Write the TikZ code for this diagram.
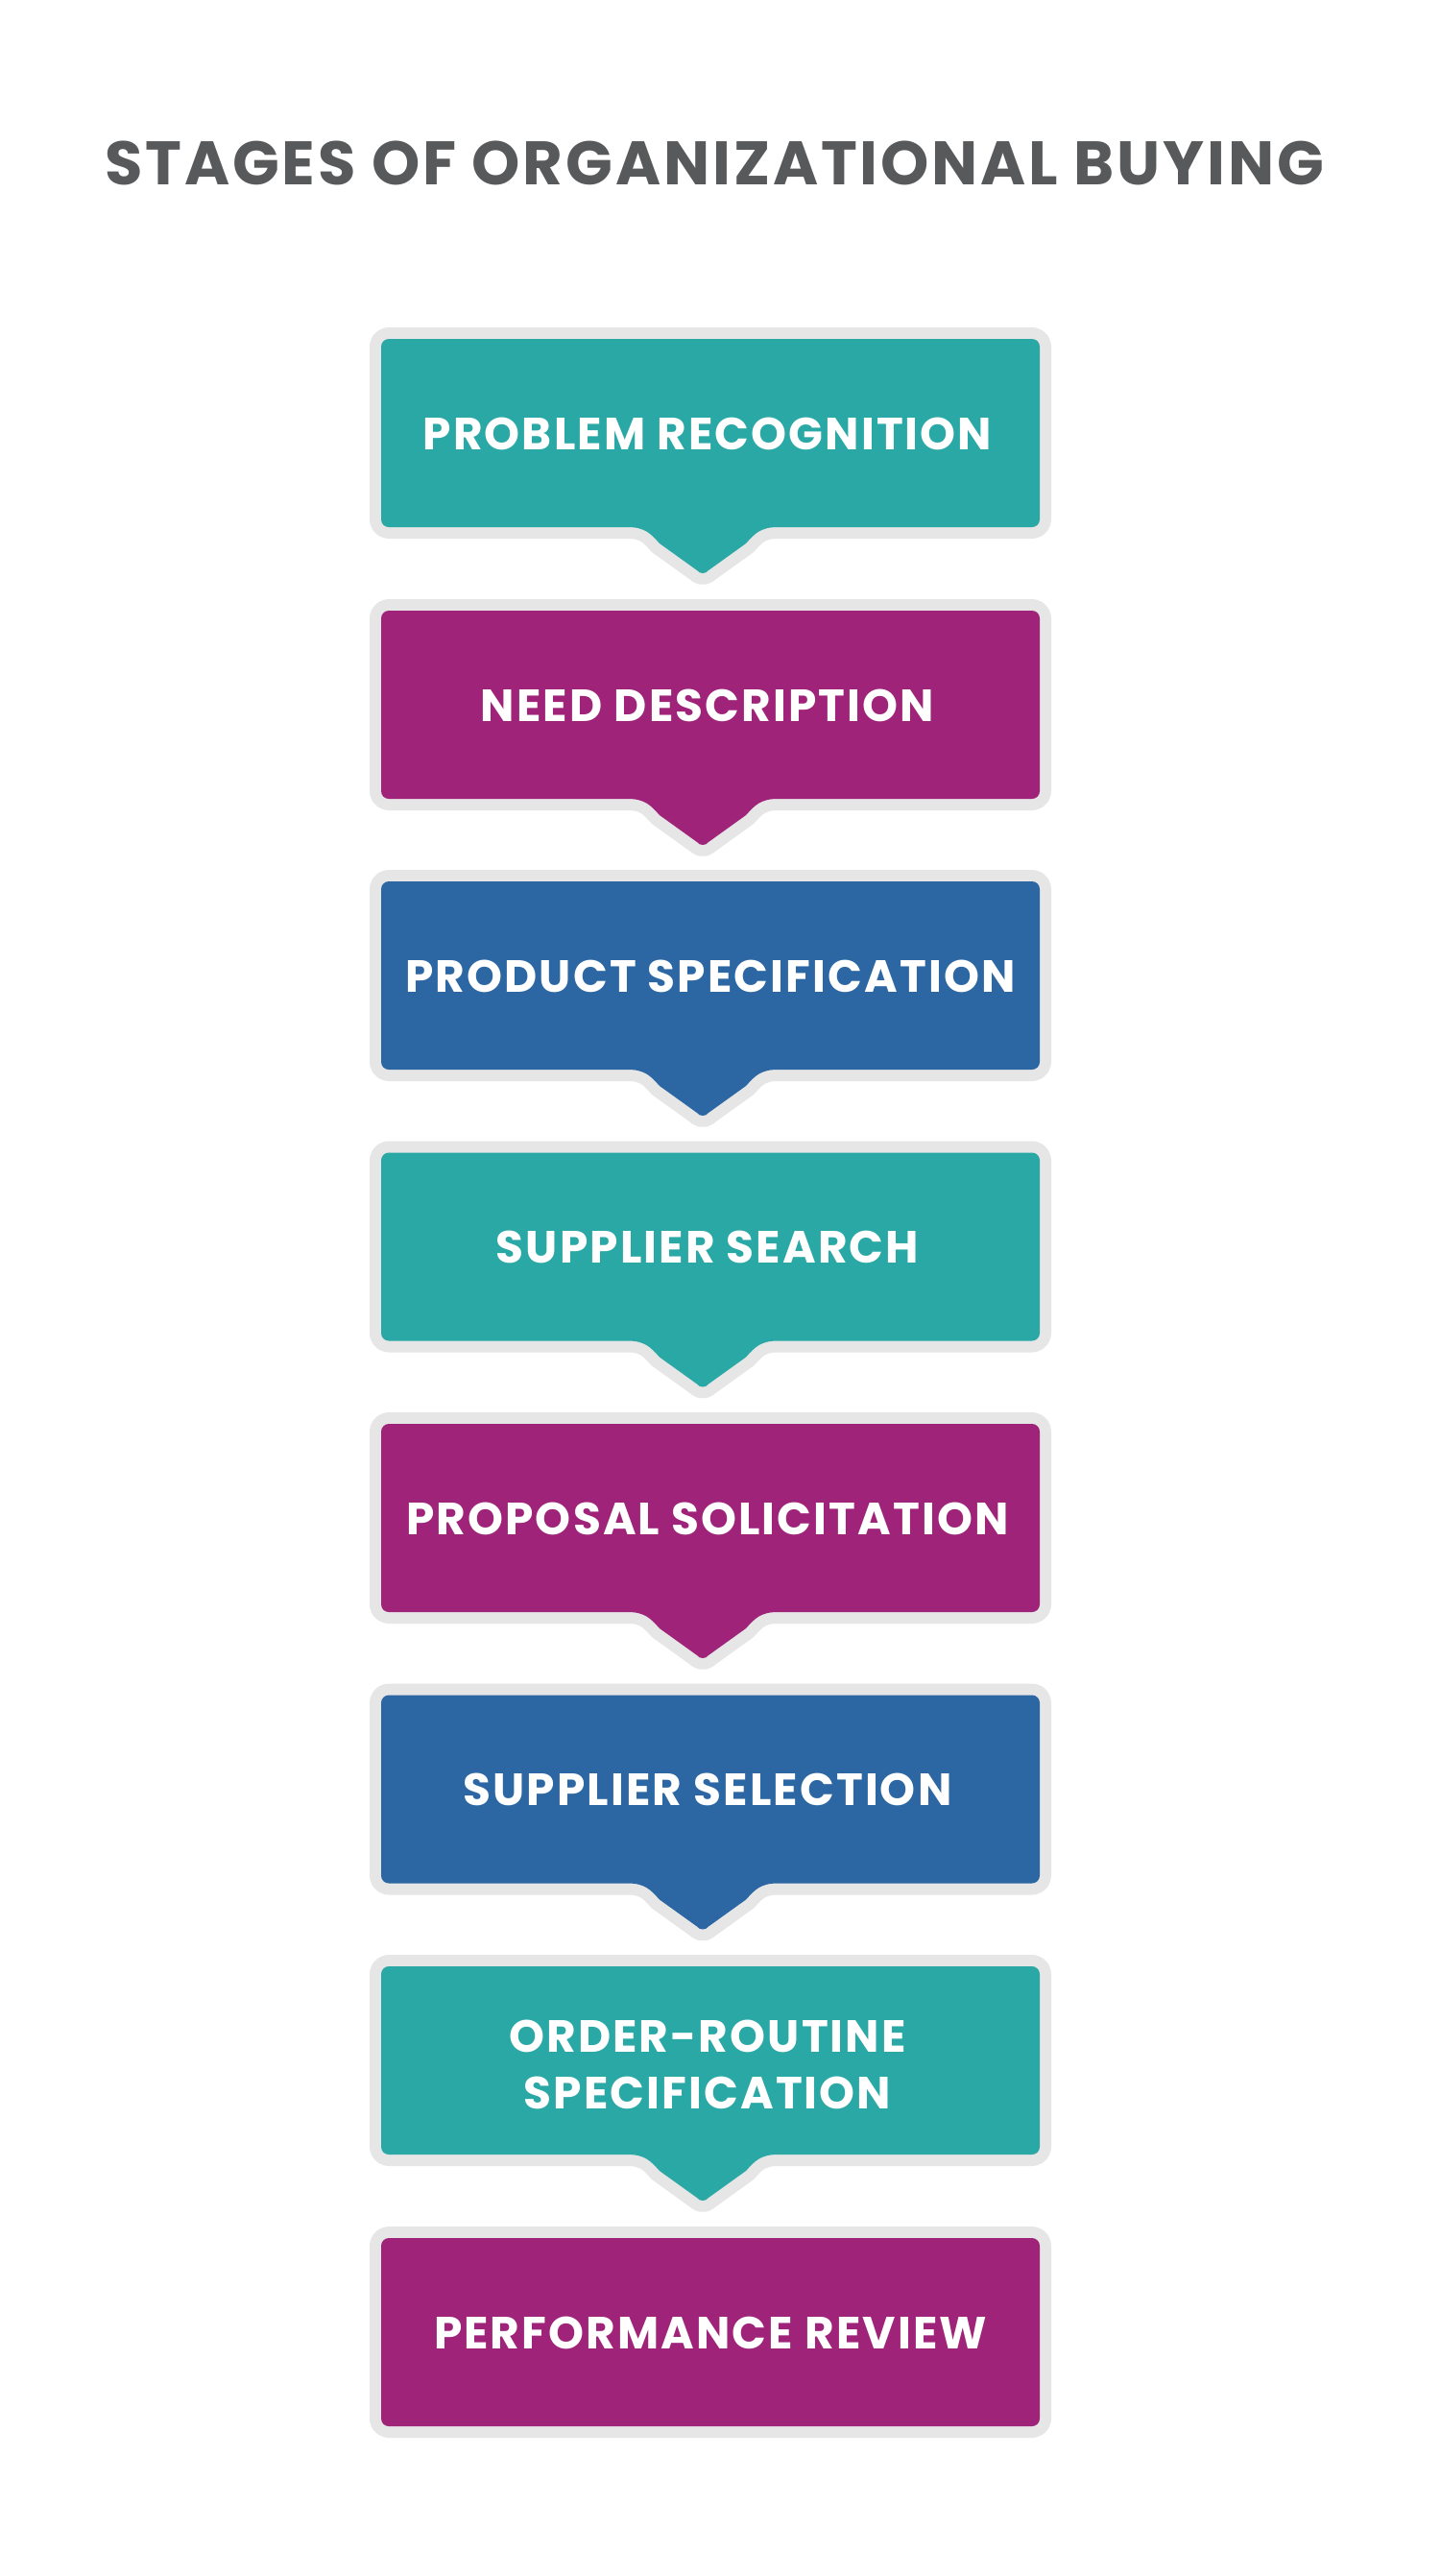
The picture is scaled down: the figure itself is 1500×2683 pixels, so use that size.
\documentclass[tikz,border=0pt]{standalone}
\usepackage{fontspec}
\setmainfont{Poppins}[LetterSpace=4.5]
\definecolor{tealc}{RGB}{41,168,166}
\definecolor{purplec}{RGB}{158,35,121}
\definecolor{bluec}{RGB}{44,103,163}
\definecolor{borderc}{RGB}{230,230,230}
\definecolor{titlec}{RGB}{88,89,91}
\tikzset{
  stageshape/.style={fill=#1, preaction={draw=borderc, line width=24pt, line join=round}},
  stagetext/.style={text=white, font=\fontsize{47}{59}\selectfont\bfseries, inner sep=0pt, anchor=base, align=center},
  titletext/.style={text=titlec, font=\fontsize{64}{70}\selectfont\bfseries, inner sep=0pt, anchor=base west}
}
% #1 top y, #2 colour
\newcommand\pointbox[2]{%
  \begin{scope}[shift={(0,#1)}]
    \path[stageshape=#2] (405,0) -- (1075,0) .. controls (1079.4,0) and (1083,3.6) .. (1083,8)
      -- (1083,188) .. controls (1083,192.4) and (1079.4,196) .. (1075,196)
      -- (810,196) .. controls (792,196) and (786,203) .. (777,213)
      -- (738,241) .. controls (735,245) and (729,245) .. (726,241)
      -- (687,213) .. controls (678,203) and (672,196) .. (654,196)
      -- (405,196) .. controls (400.6,196) and (397,192.4) .. (397,188)
      -- (397,8) .. controls (397,3.6) and (400.6,0) .. (405,0) -- cycle;
  \end{scope}}
\newcommand\plainbox[2]{%
  \begin{scope}[shift={(0,#1)}]
    \path[stageshape=#2] (405,0) -- (1075,0) .. controls (1079.4,0) and (1083,3.6) .. (1083,8)
      -- (1083,188) .. controls (1083,192.4) and (1079.4,196) .. (1075,196)
      -- (405,196) .. controls (400.6,196) and (397,192.4) .. (397,188)
      -- (397,8) .. controls (397,3.6) and (400.6,0) .. (405,0) -- cycle;
  \end{scope}}
\begin{document}
\begin{tikzpicture}[x=1pt,y=-1pt]
\useasboundingbox (0,0) rectangle (1500,2683);
\fill[white] (0,0) rectangle (1500,2683);
\node[titletext] (title) at (109,192) {STAGES OF ORGANIZATIONAL BUYING};
\pointbox{353}{tealc}
\pointbox{636}{purplec}
\pointbox{918}{bluec}
\pointbox{1200.5}{tealc}
\pointbox{1483}{purplec}
\pointbox{1765.5}{bluec}
\pointbox{2048}{tealc}
\plainbox{2331}{purplec}
\node[stagetext] (b1) at (737,468) {PROBLEM RECOGNITION};
\node[stagetext] (b2) at (737,751) {NEED DESCRIPTION};
\node[stagetext] (b3) at (740,1033) {PRODUCT SPECIFICATION};
\node[stagetext] (b4) at (737,1315.5) {SUPPLIER SEARCH};
\node[stagetext] (b5) at (737,1598) {PROPOSAL SOLICITATION};
\node[stagetext] (b6) at (737,1880.5) {SUPPLIER SELECTION};
\node[stagetext] (b7) at (737,2196) {ORDER-ROUTINE\\SPECIFICATION};
\node[stagetext] (b8) at (740,2446) {PERFORMANCE REVIEW};
\end{tikzpicture}
\end{document}
